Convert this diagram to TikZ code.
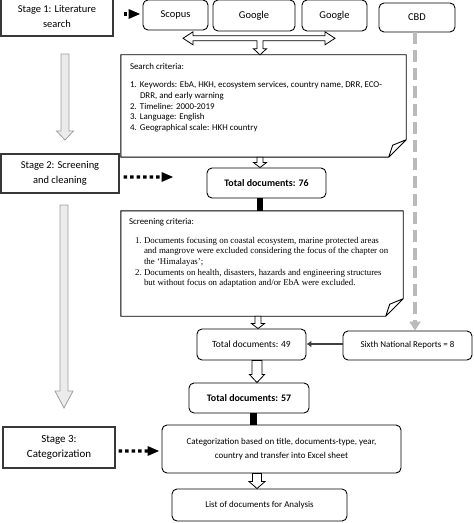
\documentclass[tikz,border=0pt]{standalone}
\usepackage{fontspec}
\setmainfont{Carlito}
\setsansfont{Carlito}
\newfontfamily\serifcrit{Liberation Serif}
\usetikzlibrary{arrows.meta,calc}
\newcommand\blockarrow[6]{%
  \draw[#1] let \p1=(#2), \p2=(#3) in
    ({\x1-#4},\y1) -- ({\x1+#4},\y1) -- ({\x1+#4},{\y2+#6}) -- ({\x1+#5},{\y2+#6}) --
    (\x1,\y2) -- ({\x1-#5},{\y2+#6}) -- ({\x1-#4},{\y2+#6}) -- cycle;}
\newcommand\foldbox[1]{%
  \draw[docline] let \p1=(#1.north west), \p2=(#1.south east) in
    (\x1,\y1) -- (\x2,\y1) -- (\x2,{\y2+17.5bp}) -- ({\x2-17.5bp},\y2) -- (\x1,\y2) -- cycle
    ({\x2-17.5bp},\y2) -- ({\x2-13.5bp},{\y2+12bp}) -- (\x2,{\y2+17.5bp});}
\newcommand\critnum[1]{\makebox[10bp][l]{#1}}
\newcommand\critser[1]{\hspace*{6bp}\makebox[9bp][l]{#1}}
\begin{document}
\begin{tikzpicture}[x=1bp,y=-1bp,
  rbox/.style={draw=black, line width=0.9bp, rounded corners=5bp, inner sep=0, align=center},
  stagebox/.style={draw=black!78, line width=1.1bp, inner sep=0, align=center,
    font=\fontsize{10.5}{15}\selectfont},
  docline/.style={draw=black, line width=0.9bp, fill=white, line join=miter},
  blk/.style={draw=black, line width=0.8bp, fill=white, line join=miter},
  graybk/.style={draw=black!38, line width=0.8bp, fill=black!8, line join=miter},
  bar/.style={draw=black, line width=6.5bp},
  dotarrow/.style={draw=black, line width=3.2bp, dash pattern=on 3.5bp off 3bp,
    -{Triangle[length=12bp,width=9bp]}},
  cbdline/.style={draw=black!27, line width=3.5bp, dash pattern=on 12bp off 6bp,
    -{Triangle[length=9bp,width=11bp]}},
  darkarrow/.style={draw=black!75, line width=2.6bp, -{Latex[length=5bp,width=7bp]}},
  txtS/.style={font=\fontsize{8.9}{10.7}\selectfont, inner sep=0, anchor=north west, align=left}
]
\useasboundingbox (0,0) rectangle (474,523);

% stage boxes
\node[stagebox, minimum width=112bp, minimum height=39bp] (st1) at (57,16.5) {Stage 1: Literature\\search};
\node[stagebox, minimum width=118bp, minimum height=39bp] (st2) at (60,173.5) {Stage 2: Screening\\and cleaning};
\node[stagebox, minimum width=112bp, minimum height=41bp, font=\fontsize{11}{15}\selectfont] (st3) at (59,447.5) {Stage 3:\\Categorization};

% source boxes
\node[rbox, minimum width=65bp, minimum height=30bp, font=\fontsize{10.5}{12}\selectfont] (scopus) at (175.5,15) {Scopus};
\node[rbox, minimum width=82bp, minimum height=31bp, font=\fontsize{10.5}{12}\selectfont] (google1) at (254,15.5) {Google};
\node[rbox, minimum width=65bp, minimum height=31bp, font=\fontsize{10.5}{12}\selectfont] (google2) at (334.5,15.5) {Google};
\node[rbox, minimum width=76bp, minimum height=29bp, font=\fontsize{10.5}{12}\selectfont] (cbd) at (417,17.5) {CBD};

% search criteria
\node[minimum width=285bp, minimum height=102bp, inner sep=0] (search) at (263.5,106) {};
\foldbox{search}
\node[txtS] (searchtxt) at ($(search.north west)+(9,8)$) {Search criteria:\\[8bp]
\critnum{1.}Keywords: EbA, HKH, ecosystem services, country name, DRR, ECO-\\
\hspace*{10bp}DRR, and early warning\\
\critnum{2.}Timeline: 2000-2019\\
\critnum{3.}Language: English\\
\critnum{4.}Geographical scale: HKH country};

% totals
\node[rbox, minimum width=119bp, minimum height=30bp, font=\bfseries\fontsize{10}{12}\selectfont] (tot76) at (266.5,183) {Total documents: 76};

% screening criteria
\node[minimum width=282bp, minimum height=105bp, inner sep=0] (screen) at (262,263.5) {};
\foldbox{screen}
\node[txtS] (screentxt) at ($(screen.north west)+(8,7.5)$) {Screening criteria:\\[8bp]
{\serifcrit\critser{1.}Documents focusing on coastal ecosystem, marine protected areas}\\
{\serifcrit\hspace*{15bp}and mangrove were excluded considering the focus of the chapter on}\\
{\serifcrit\hspace*{15bp}the ‘Himalayas’;}\\
{\serifcrit\critser{2.}Documents on health, disasters, hazards and engineering structures}\\
{\serifcrit\hspace*{15bp}but without focus on adaptation and/or EbA were excluded.}};

\node[rbox, minimum width=109bp, minimum height=31bp, font=\fontsize{9.5}{12}\selectfont] (tot49) at (251.5,344.5) {Total documents: 49};
\node[rbox, minimum width=129bp, minimum height=29bp, font=\fontsize{9}{12}\selectfont] (sixth) at (407.5,345.5) {Sixth National Reports = 8};
\node[rbox, minimum width=120bp, minimum height=30bp, font=\bfseries\fontsize{10}{12}\selectfont] (tot57) at (249,398) {Total documents: 57};
\node[rbox, minimum width=239bp, minimum height=48bp, font=\fontsize{9}{13.5}\selectfont] (cat) at (281.5,449) {Categorization based on title, documents-type, year,\\country and transfer into Excel sheet};
\node[rbox, minimum width=175bp, minimum height=32bp, font=\fontsize{9}{12}\selectfont] (list) at (259.5,505) {List of documents for Analysis};

% hub arrow (double horizontal + down)
\coordinate (hub) at ($(search.north)+(-3.5,-16.5)$);
\draw[blk, shift={(hub)}] (-77,0) -- (-67,-6.5) -- (-67,-2.5) -- (65,-2.5) -- (65,-6.5) -- (75,0)
  -- (65,6.5) -- (65,2.5) -- (3,2.5) -- (3,10.5) -- (6.5,10.5) -- (0,16.5) -- (-6.5,10.5)
  -- (-3,10.5) -- (-3,2.5) -- (-67,2.5) -- (-67,6.5) -- cycle;

% block arrows
\blockarrow{blk}{$(search.south)+(-3.5,0)$}{tot76.north}{3bp}{6.5bp}{5bp}
\blockarrow{blk}{$(screen.south)+(-4,0)$}{tot49.north}{3bp}{6.5bp}{5bp}
\blockarrow{blk}{$(tot49.south)+(5.5,0)$}{tot57.north}{5bp}{7.5bp}{8bp}
\blockarrow{blk}{$(cat.south)+(-24.5,0)$}{list.north}{4.5bp}{8bp}{7bp}

% gray stage arrows
\coordinate (g1a) at (65,54);
\coordinate (g1b) at (65,140);
\coordinate (g2a) at (64,205);
\coordinate (g2b) at (64,408);
\blockarrow{graybk}{g1a}{g1b}{4bp}{8.5bp}{9bp}
\blockarrow{graybk}{g2a}{g2b}{4bp}{9bp}{17bp}

% black bars
\coordinate (b1) at ($(tot76.south)+(-6.5,0)$);
\draw[bar] (b1) -- (b1 |- screen.north);
\coordinate (b2) at ($(tot57.south)+(4.5,0)$);
\draw[bar] (b2) -- (b2 |- cat.north);

% dotted arrows
\draw[dotarrow] ($(st1.east)+(10,-2.5)$) -- ($(scopus.west)+(-2,-1)$);
\draw[dotarrow] ($(st2.east)+(4,3.5)$) -- ($(tot76.west)+(-33,-6)$);
\draw[dotarrow] ($(st3.east)+(3,3.5)$) -- ($(cat.west)+(-2,2)$);

% CBD dashed
\coordinate (c1) at ($(cbd.south)+(-2,0)$);
\draw[cbdline] (c1) -- (c1 |- sixth.north);

% sixth -> 49
\draw[darkarrow] ($(sixth.west)+(0,-1.5)$) -- ($(tot49.east)+(0,-0.5)$);
\end{tikzpicture}
\end{document}
